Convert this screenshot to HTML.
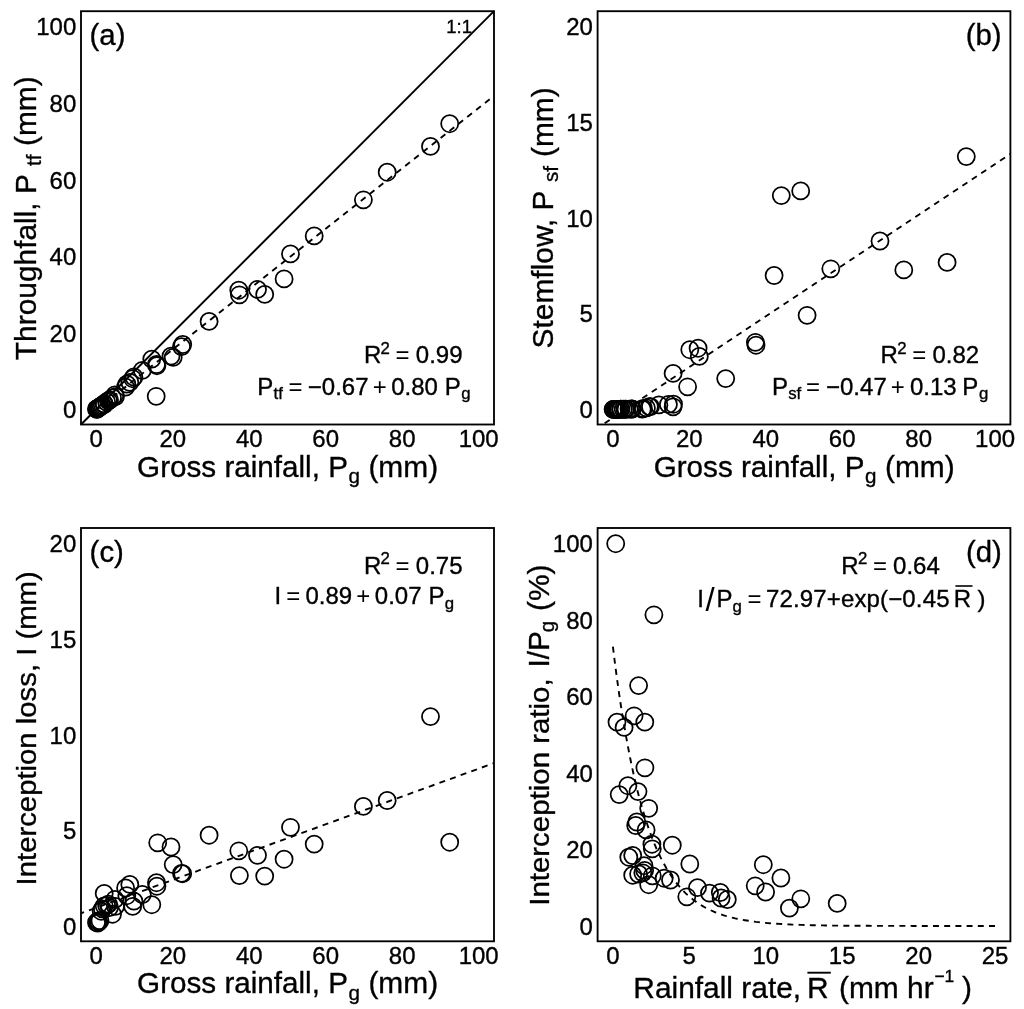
<!DOCTYPE html>
<html lang="en"><head><meta charset="utf-8"><title>Rainfall partitioning</title>
<style>html,body{margin:0;padding:0;background:#fff}svg{display:block}text{font-family:"Liberation Sans", Arial, Helvetica, sans-serif;fill:#000;stroke:#000;stroke-width:0.35px}.sup{font-size:17.5px}.tk{font-size:24px}.ax{font-size:29.9px}.sub{font-size:20.6px}.an{font-size:24px}.ans{font-size:16.8px}.lab{font-size:29.4px}.one{font-size:18.5px}.fr{fill:none;stroke:#000;stroke-width:1.85}.pt{fill:none;stroke:#000;stroke-width:1.75}.ds{fill:none;stroke:#000;stroke-width:1.9;stroke-dasharray:6 5.3}</style></head><body>
<svg width="1024" height="1009" viewBox="0 0 1024 1009">
<rect width="1024" height="1009" fill="#fff"/>
<clipPath id="cpa"><rect x="81.0" y="11.2" width="413.0" height="413.3"/></clipPath>
<clipPath id="cpb"><rect x="597.6" y="11.2" width="412.8" height="413.3"/></clipPath>
<clipPath id="cpc"><rect x="81.0" y="528.0" width="413.0" height="413.3"/></clipPath>
<clipPath id="cpd"><rect x="597.6" y="528.0" width="412.8" height="413.3"/></clipPath>
<text class="tk" transform="translate(96.3 447.4) scale(1 1.03)" text-anchor="middle">0</text>
<text class="tk" transform="translate(172.8 447.4) scale(1 1.03)" text-anchor="middle">20</text>
<text class="tk" transform="translate(249.3 447.4) scale(1 1.03)" text-anchor="middle">40</text>
<text class="tk" transform="translate(325.7 447.4) scale(1 1.03)" text-anchor="middle">60</text>
<text class="tk" transform="translate(402.2 447.4) scale(1 1.03)" text-anchor="middle">80</text>
<text class="tk" transform="translate(478.7 447.4) scale(1 1.03)" text-anchor="middle">100</text>
<text class="tk" transform="translate(76.3 418.1) scale(1 1.03)" text-anchor="end">0</text>
<text class="tk" transform="translate(76.3 341.6) scale(1 1.03)" text-anchor="end">20</text>
<text class="tk" transform="translate(76.3 265.0) scale(1 1.03)" text-anchor="end">40</text>
<text class="tk" transform="translate(76.3 188.5) scale(1 1.03)" text-anchor="end">60</text>
<text class="tk" transform="translate(76.3 111.9) scale(1 1.03)" text-anchor="end">80</text>
<text class="tk" transform="translate(76.3 35.4) scale(1 1.03)" text-anchor="end">100</text>
<line x1="81.0" y1="424.5" x2="494.0" y2="11.2" stroke="#000" stroke-width="1.9"/>
<path class="ds" clip-path="url(#cpa)" d="M489.7 99.2L97.0 409.4"/>
<g class="pt" clip-path="url(#cpa)">
<circle cx="96.5" cy="409.0" r="8.55"/>
<circle cx="96.9" cy="409.4" r="8.55"/>
<circle cx="97.3" cy="408.8" r="8.55"/>
<circle cx="97.7" cy="408.5" r="8.55"/>
<circle cx="98.2" cy="408.2" r="8.55"/>
<circle cx="98.8" cy="407.5" r="8.55"/>
<circle cx="99.4" cy="407.3" r="8.55"/>
<circle cx="100.0" cy="406.8" r="8.55"/>
<circle cx="101.2" cy="406.0" r="8.55"/>
<circle cx="102.4" cy="405.2" r="8.55"/>
<circle cx="104.2" cy="403.7" r="8.55"/>
<circle cx="104.2" cy="404.5" r="8.55"/>
<circle cx="106.6" cy="402.0" r="8.55"/>
<circle cx="108.4" cy="400.8" r="8.55"/>
<circle cx="109.5" cy="400.0" r="8.55"/>
<circle cx="112.5" cy="397.8" r="8.55"/>
<circle cx="114.9" cy="394.8" r="8.55"/>
<circle cx="115.5" cy="396.6" r="8.55"/>
<circle cx="125.6" cy="387.1" r="8.55"/>
<circle cx="126.8" cy="384.1" r="8.55"/>
<circle cx="129.8" cy="382.3" r="8.55"/>
<circle cx="132.7" cy="378.7" r="8.55"/>
<circle cx="133.9" cy="377.0" r="8.55"/>
<circle cx="142.3" cy="370.4" r="8.55"/>
<circle cx="151.8" cy="359.1" r="8.55"/>
<circle cx="156.5" cy="364.5" r="8.55"/>
<circle cx="156.9" cy="365.7" r="8.55"/>
<circle cx="156.2" cy="396.3" r="8.55"/>
<circle cx="171.0" cy="356.1" r="8.55"/>
<circle cx="173.2" cy="357.3" r="8.55"/>
<circle cx="181.5" cy="346.6" r="8.55"/>
<circle cx="182.7" cy="344.5" r="8.55"/>
<circle cx="209.1" cy="321.4" r="8.55"/>
<circle cx="238.8" cy="290.2" r="8.55"/>
<circle cx="239.4" cy="294.8" r="8.55"/>
<circle cx="257.5" cy="289.4" r="8.55"/>
<circle cx="264.7" cy="294.4" r="8.55"/>
<circle cx="284.1" cy="278.9" r="8.55"/>
<circle cx="290.5" cy="253.9" r="8.55"/>
<circle cx="314.2" cy="235.9" r="8.55"/>
<circle cx="363.4" cy="199.8" r="8.55"/>
<circle cx="387.2" cy="172.2" r="8.55"/>
<circle cx="430.5" cy="146.4" r="8.55"/>
<circle cx="449.7" cy="123.7" r="8.55"/>
</g>
<rect class="fr" x="81.0" y="11.2" width="413.0" height="413.3"/>
<text class="tk" transform="translate(612.9 447.4) scale(1 1.03)" text-anchor="middle">0</text>
<text class="tk" transform="translate(689.3 447.4) scale(1 1.03)" text-anchor="middle">20</text>
<text class="tk" transform="translate(765.8 447.4) scale(1 1.03)" text-anchor="middle">40</text>
<text class="tk" transform="translate(842.2 447.4) scale(1 1.03)" text-anchor="middle">60</text>
<text class="tk" transform="translate(918.7 447.4) scale(1 1.03)" text-anchor="middle">80</text>
<text class="tk" transform="translate(995.1 447.4) scale(1 1.03)" text-anchor="middle">100</text>
<text class="tk" transform="translate(592.9 418.1) scale(1 1.03)" text-anchor="end">0</text>
<text class="tk" transform="translate(592.9 322.4) scale(1 1.03)" text-anchor="end">5</text>
<text class="tk" transform="translate(592.9 226.8) scale(1 1.03)" text-anchor="end">10</text>
<text class="tk" transform="translate(592.9 131.1) scale(1 1.03)" text-anchor="end">15</text>
<text class="tk" transform="translate(592.9 35.4) scale(1 1.03)" text-anchor="end">20</text>
<path class="ds" clip-path="url(#cpb)" stroke-dashoffset="2.8" d="M597.6 428.0L1010.4 153.9"/>
<g class="pt" clip-path="url(#cpb)">
<circle cx="613.1" cy="409.3" r="8.55"/>
<circle cx="613.5" cy="409.3" r="8.55"/>
<circle cx="613.9" cy="409.3" r="8.55"/>
<circle cx="614.3" cy="409.3" r="8.55"/>
<circle cx="614.8" cy="409.3" r="8.55"/>
<circle cx="615.4" cy="409.3" r="8.55"/>
<circle cx="616.0" cy="409.3" r="8.55"/>
<circle cx="616.6" cy="409.3" r="8.55"/>
<circle cx="617.8" cy="409.3" r="8.55"/>
<circle cx="619.0" cy="409.3" r="8.55"/>
<circle cx="620.8" cy="409.2" r="8.55"/>
<circle cx="620.8" cy="409.2" r="8.55"/>
<circle cx="623.2" cy="409.2" r="8.55"/>
<circle cx="625.0" cy="409.2" r="8.55"/>
<circle cx="626.1" cy="409.2" r="8.55"/>
<circle cx="629.1" cy="409.1" r="8.55"/>
<circle cx="631.5" cy="409.0" r="8.55"/>
<circle cx="632.1" cy="409.0" r="8.55"/>
<circle cx="642.2" cy="409.1" r="8.55"/>
<circle cx="643.4" cy="408.5" r="8.55"/>
<circle cx="646.4" cy="407.9" r="8.55"/>
<circle cx="649.3" cy="406.7" r="8.55"/>
<circle cx="650.5" cy="406.7" r="8.55"/>
<circle cx="658.9" cy="404.9" r="8.55"/>
<circle cx="668.4" cy="404.4" r="8.55"/>
<circle cx="673.1" cy="406.8" r="8.55"/>
<circle cx="673.5" cy="404.2" r="8.55"/>
<circle cx="673.1" cy="373.4" r="8.55"/>
<circle cx="687.6" cy="386.8" r="8.55"/>
<circle cx="689.8" cy="349.7" r="8.55"/>
<circle cx="698.1" cy="348.2" r="8.55"/>
<circle cx="699.3" cy="356.4" r="8.55"/>
<circle cx="725.7" cy="378.6" r="8.55"/>
<circle cx="755.4" cy="342.3" r="8.55"/>
<circle cx="756.0" cy="345.2" r="8.55"/>
<circle cx="774.1" cy="275.5" r="8.55"/>
<circle cx="781.3" cy="195.6" r="8.55"/>
<circle cx="800.7" cy="190.9" r="8.55"/>
<circle cx="807.1" cy="315.3" r="8.55"/>
<circle cx="830.8" cy="268.8" r="8.55"/>
<circle cx="880.0" cy="241.0" r="8.55"/>
<circle cx="903.8" cy="269.9" r="8.55"/>
<circle cx="947.1" cy="262.4" r="8.55"/>
<circle cx="966.3" cy="156.6" r="8.55"/>
</g>
<rect class="fr" x="597.6" y="11.2" width="412.8" height="413.3"/>
<text class="tk" transform="translate(96.3 964.2) scale(1 1.03)" text-anchor="middle">0</text>
<text class="tk" transform="translate(172.8 964.2) scale(1 1.03)" text-anchor="middle">20</text>
<text class="tk" transform="translate(249.3 964.2) scale(1 1.03)" text-anchor="middle">40</text>
<text class="tk" transform="translate(325.7 964.2) scale(1 1.03)" text-anchor="middle">60</text>
<text class="tk" transform="translate(402.2 964.2) scale(1 1.03)" text-anchor="middle">80</text>
<text class="tk" transform="translate(478.7 964.2) scale(1 1.03)" text-anchor="middle">100</text>
<text class="tk" transform="translate(76.3 934.9) scale(1 1.03)" text-anchor="end">0</text>
<text class="tk" transform="translate(76.3 839.2) scale(1 1.03)" text-anchor="end">5</text>
<text class="tk" transform="translate(76.3 743.5) scale(1 1.03)" text-anchor="end">10</text>
<text class="tk" transform="translate(76.3 647.9) scale(1 1.03)" text-anchor="end">15</text>
<text class="tk" transform="translate(76.3 552.2) scale(1 1.03)" text-anchor="end">20</text>
<path class="ds" clip-path="url(#cpc)" stroke-dashoffset="2.8" d="M81.0 913.3L494.0 763.1"/>
<g class="pt" clip-path="url(#cpc)">
<circle cx="96.5" cy="922.5" r="8.55"/>
<circle cx="97.7" cy="923.1" r="8.55"/>
<circle cx="98.2" cy="921.0" r="8.55"/>
<circle cx="98.8" cy="921.9" r="8.55"/>
<circle cx="100.0" cy="920.7" r="8.55"/>
<circle cx="101.2" cy="911.2" r="8.55"/>
<circle cx="102.4" cy="908.8" r="8.55"/>
<circle cx="104.2" cy="893.4" r="8.55"/>
<circle cx="104.2" cy="905.8" r="8.55"/>
<circle cx="106.6" cy="905.3" r="8.55"/>
<circle cx="108.4" cy="904.1" r="8.55"/>
<circle cx="109.5" cy="907.6" r="8.55"/>
<circle cx="112.5" cy="914.2" r="8.55"/>
<circle cx="114.9" cy="899.3" r="8.55"/>
<circle cx="115.5" cy="906.4" r="8.55"/>
<circle cx="125.6" cy="888.0" r="8.55"/>
<circle cx="126.8" cy="895.7" r="8.55"/>
<circle cx="129.8" cy="884.4" r="8.55"/>
<circle cx="132.7" cy="906.4" r="8.55"/>
<circle cx="133.9" cy="901.1" r="8.55"/>
<circle cx="142.3" cy="894.5" r="8.55"/>
<circle cx="151.8" cy="904.7" r="8.55"/>
<circle cx="156.5" cy="882.7" r="8.55"/>
<circle cx="156.9" cy="886.2" r="8.55"/>
<circle cx="157.7" cy="842.8" r="8.55"/>
<circle cx="171.0" cy="847.0" r="8.55"/>
<circle cx="173.2" cy="864.6" r="8.55"/>
<circle cx="181.5" cy="873.4" r="8.55"/>
<circle cx="182.7" cy="873.7" r="8.55"/>
<circle cx="209.1" cy="835.2" r="8.55"/>
<circle cx="238.8" cy="850.8" r="8.55"/>
<circle cx="239.4" cy="875.6" r="8.55"/>
<circle cx="257.5" cy="855.3" r="8.55"/>
<circle cx="264.7" cy="876.1" r="8.55"/>
<circle cx="284.1" cy="859.2" r="8.55"/>
<circle cx="290.5" cy="827.3" r="8.55"/>
<circle cx="314.2" cy="844.1" r="8.55"/>
<circle cx="363.4" cy="806.4" r="8.55"/>
<circle cx="387.2" cy="800.5" r="8.55"/>
<circle cx="430.5" cy="716.6" r="8.55"/>
<circle cx="449.7" cy="842.2" r="8.55"/>
</g>
<rect class="fr" x="81.0" y="528.0" width="413.0" height="413.3"/>
<text class="tk" transform="translate(612.9 964.2) scale(1 1.03)" text-anchor="middle">0</text>
<text class="tk" transform="translate(689.3 964.2) scale(1 1.03)" text-anchor="middle">5</text>
<text class="tk" transform="translate(765.8 964.2) scale(1 1.03)" text-anchor="middle">10</text>
<text class="tk" transform="translate(842.2 964.2) scale(1 1.03)" text-anchor="middle">15</text>
<text class="tk" transform="translate(918.7 964.2) scale(1 1.03)" text-anchor="middle">20</text>
<text class="tk" transform="translate(995.1 964.2) scale(1 1.03)" text-anchor="middle">25</text>
<text class="tk" transform="translate(592.9 934.9) scale(1 1.03)" text-anchor="end">0</text>
<text class="tk" transform="translate(592.9 858.4) scale(1 1.03)" text-anchor="end">20</text>
<text class="tk" transform="translate(592.9 781.8) scale(1 1.03)" text-anchor="end">40</text>
<text class="tk" transform="translate(592.9 705.3) scale(1 1.03)" text-anchor="end">60</text>
<text class="tk" transform="translate(592.9 628.7) scale(1 1.03)" text-anchor="end">80</text>
<text class="tk" transform="translate(592.9 552.2) scale(1 1.03)" text-anchor="end">100</text>
<path class="ds" clip-path="url(#cpd)" style="stroke-dasharray:5.95 5.254" d="M612.9 646.7L614.8 662.0L616.7 676.5L618.6 690.1L620.5 703.0L622.4 715.2L624.4 726.7L626.3 737.6L628.2 747.9L630.1 757.7L632.0 766.9L633.9 775.6L635.8 783.8L637.7 791.6L639.6 798.9L641.6 805.9L643.5 812.5L645.4 818.7L647.3 824.5L649.2 830.1L651.1 835.3L653.0 840.3L654.9 845.0L656.8 849.4L658.8 853.6L660.7 857.6L662.6 861.3L664.5 864.8L666.4 868.2L668.3 871.3L670.2 874.3L672.1 877.2L674.0 879.8L676.0 882.4L677.9 884.7L679.8 887.0L681.7 889.1L683.6 891.1L685.5 893.1L687.4 894.9L689.3 896.6L691.2 898.2L693.2 899.7L695.1 901.1L697.0 902.5L698.9 903.8L700.8 905.0L702.7 906.1L704.6 907.2L706.5 908.3L708.4 909.2L710.4 910.1L712.3 911.0L714.2 911.8L716.1 912.6L718.0 913.3L719.9 914.0L721.8 914.7L723.7 915.3L725.6 915.9L727.6 916.4L729.5 917.0L731.4 917.5L733.3 917.9L735.2 918.4L737.1 918.8L739.0 919.2L740.9 919.5L742.8 919.9L744.8 920.2L746.7 920.5L748.6 920.8L750.5 921.1L752.4 921.4L754.3 921.6L756.2 921.9L758.1 922.1L760.0 922.3L762.0 922.5L763.9 922.7L765.8 922.9L767.7 923.1L769.6 923.2L771.5 923.4L773.4 923.5L775.3 923.7L777.2 923.8L779.2 923.9L781.1 924.0L783.0 924.1L784.9 924.2L786.8 924.3L788.7 924.4L790.6 924.5L792.5 924.6L794.4 924.7L796.4 924.7L798.3 924.8L800.2 924.9L802.1 924.9L804.0 925.0L805.9 925.0L807.8 925.1L809.7 925.1L811.6 925.2L813.6 925.2L815.5 925.3L817.4 925.3L819.3 925.4L821.2 925.4L823.1 925.4L825.0 925.5L826.9 925.5L828.8 925.5L830.8 925.5L832.7 925.6L834.6 925.6L836.5 925.6L838.4 925.6L840.3 925.6L842.2 925.7L844.1 925.7L846.0 925.7L848.0 925.7L849.9 925.7L851.8 925.7L853.7 925.8L855.6 925.8L857.5 925.8L859.4 925.8L861.3 925.8L863.2 925.8L865.2 925.8L867.1 925.8L869.0 925.8L870.9 925.9L872.8 925.9L874.7 925.9L876.6 925.9L878.5 925.9L880.4 925.9L882.4 925.9L884.3 925.9L886.2 925.9L888.1 925.9L890.0 925.9L891.9 925.9L893.8 925.9L895.7 925.9L897.6 925.9L899.6 925.9L901.5 925.9L903.4 925.9L905.3 925.9L907.2 925.9L909.1 925.9L911.0 925.9L912.9 926.0L914.8 926.0L916.8 926.0L918.7 926.0L920.6 926.0L922.5 926.0L924.4 926.0L926.3 926.0L928.2 926.0L930.1 926.0L932.0 926.0L934.0 926.0L935.9 926.0L937.8 926.0L939.7 926.0L941.6 926.0L943.5 926.0L945.4 926.0L947.3 926.0L949.2 926.0L951.2 926.0L953.1 926.0L955.0 926.0L956.9 926.0L958.8 926.0L960.7 926.0L962.6 926.0L964.5 926.0L966.4 926.0L968.4 926.0L970.3 926.0L972.2 926.0L974.1 926.0L976.0 926.0L977.9 926.0L979.8 926.0L981.7 926.0L983.6 926.0L985.6 926.0L987.5 926.0L989.4 926.0L991.3 926.0L993.2 926.0L995.1 926.0"/>
<g class="pt" clip-path="url(#cpd)">
<circle cx="615.7" cy="543.7" r="8.55"/>
<circle cx="653.9" cy="614.8" r="8.55"/>
<circle cx="638.6" cy="685.6" r="8.55"/>
<circle cx="634.1" cy="715.8" r="8.55"/>
<circle cx="644.8" cy="722.1" r="8.55"/>
<circle cx="617.0" cy="722.1" r="8.55"/>
<circle cx="624.1" cy="727.4" r="8.55"/>
<circle cx="644.9" cy="767.8" r="8.55"/>
<circle cx="627.9" cy="785.7" r="8.55"/>
<circle cx="619.2" cy="794.6" r="8.55"/>
<circle cx="638.0" cy="791.6" r="8.55"/>
<circle cx="648.7" cy="808.3" r="8.55"/>
<circle cx="636.8" cy="822.0" r="8.55"/>
<circle cx="635.7" cy="825.5" r="8.55"/>
<circle cx="646.1" cy="829.9" r="8.55"/>
<circle cx="651.9" cy="844.2" r="8.55"/>
<circle cx="652.3" cy="848.8" r="8.55"/>
<circle cx="672.3" cy="845.2" r="8.55"/>
<circle cx="689.8" cy="864.0" r="8.55"/>
<circle cx="628.8" cy="857.2" r="8.55"/>
<circle cx="632.7" cy="855.5" r="8.55"/>
<circle cx="644.0" cy="865.7" r="8.55"/>
<circle cx="632.7" cy="875.2" r="8.55"/>
<circle cx="638.6" cy="874.0" r="8.55"/>
<circle cx="642.8" cy="872.8" r="8.55"/>
<circle cx="644.6" cy="870.4" r="8.55"/>
<circle cx="652.3" cy="875.8" r="8.55"/>
<circle cx="648.7" cy="884.7" r="8.55"/>
<circle cx="664.2" cy="878.2" r="8.55"/>
<circle cx="670.5" cy="880.0" r="8.55"/>
<circle cx="686.8" cy="896.8" r="8.55"/>
<circle cx="697.5" cy="887.6" r="8.55"/>
<circle cx="709.5" cy="893.1" r="8.55"/>
<circle cx="720.3" cy="892.5" r="8.55"/>
<circle cx="721.1" cy="898.0" r="8.55"/>
<circle cx="727.3" cy="899.5" r="8.55"/>
<circle cx="763.3" cy="864.7" r="8.55"/>
<circle cx="780.9" cy="878.0" r="8.55"/>
<circle cx="755.2" cy="885.8" r="8.55"/>
<circle cx="765.6" cy="892.0" r="8.55"/>
<circle cx="800.8" cy="898.8" r="8.55"/>
<circle cx="789.4" cy="908.1" r="8.55"/>
<circle cx="837.2" cy="903.4" r="8.55"/>
</g>
<rect class="fr" x="597.6" y="528.0" width="412.8" height="413.3"/>
<text class="ax" transform="translate(137.1 476.6) scale(1 0.965)" style="font-size:29.65px">Gross rainfall, P</text>
<text class="sub" transform="translate(348.4 482.8) scale(1 0.965)">g</text>
<text class="ax" transform="translate(368.4 476.6) scale(1 0.965)">(mm)</text>
<text class="ax" transform="translate(653.7 476.6) scale(1 0.965)" style="font-size:29.65px">Gross rainfall, P</text>
<text class="sub" transform="translate(865.0 482.8) scale(1 0.965)">g</text>
<text class="ax" transform="translate(885.0 476.6) scale(1 0.965)">(mm)</text>
<text class="ax" transform="translate(137.1 993.4) scale(1 0.965)" style="font-size:29.65px">Gross rainfall, P</text>
<text class="sub" transform="translate(348.4 999.6) scale(1 0.965)">g</text>
<text class="ax" transform="translate(368.4 993.4) scale(1 0.965)">(mm)</text>
<text class="ax" transform="translate(36.0 360.2) rotate(-90) scale(1 0.965)">Throughfall, P</text>
<text class="sub" transform="translate(41.0 166.0) rotate(-90) scale(1 0.965)">tf</text>
<text class="ax" transform="translate(36.0 146.0) rotate(-90) scale(1 0.965)">(mm)</text>
<text class="ax" transform="translate(552.6 348.4) rotate(-90) scale(1 0.965)">Stemflow, P</text>
<text class="sub" transform="translate(557.6 182.0) rotate(-90) scale(1 0.965)">sf</text>
<text class="ax" transform="translate(552.6 157.0) rotate(-90) scale(1 0.965)">(mm)</text>
<text class="ax" transform="translate(35.7 885.4) rotate(-90) scale(1 0.965)" style="font-size:29.3px">Interception loss, I (mm)</text>
<text class="ax" transform="translate(549.1 905.8) rotate(-90) scale(1 0.965)" style="font-size:29.45px">Interception ratio,</text>
<text class="ax" transform="translate(549.1 667.5) rotate(-90) scale(1 0.965)">I/P</text>
<text class="sub" transform="translate(554.1 632.3) rotate(-90) scale(1 0.965)">g</text>
<text class="ax" transform="translate(549.1 611.0) rotate(-90) scale(1 0.965)">(%)</text>
<text class="lab" transform="translate(89.5 44.9) scale(1 1.0)">(a)</text>
<text class="lab" transform="translate(965.7 44.9) scale(1 1.0)">(b)</text>
<text class="lab" transform="translate(89.6 561.6) scale(1 1.0)">(c)</text>
<text class="lab" transform="translate(965.9 561.5) scale(1 1.0)">(d)</text>
<text class="one" transform="translate(446.2 33.0) scale(1 1.0)">1:1</text>
<text class="an" transform="translate(364.0 363.4) scale(1 1.0)">R</text>
<text class="ans" transform="translate(380.6 353.9) scale(1 1.0)">2</text>
<text class="an" transform="translate(395.6 363.4) scale(1 1.0)" style="stroke-width:0">=</text>
<text class="an" transform="translate(415.8 363.4) scale(1 1.0)">0.99</text>
<text class="an" transform="translate(880.6 363.4) scale(1 1.0)">R</text>
<text class="ans" transform="translate(897.2 353.9) scale(1 1.0)">2</text>
<text class="an" transform="translate(912.2 363.4) scale(1 1.0)" style="stroke-width:0">=</text>
<text class="an" transform="translate(932.4 363.4) scale(1 1.0)">0.82</text>
<text class="an" transform="translate(364.0 573.6) scale(1 1.0)">R</text>
<text class="ans" transform="translate(380.6 564.1) scale(1 1.0)">2</text>
<text class="an" transform="translate(395.6 573.6) scale(1 1.0)" style="stroke-width:0">=</text>
<text class="an" transform="translate(415.8 573.6) scale(1 1.0)">0.75</text>
<text class="an" transform="translate(841.3 573.8) scale(1 1.0)">R</text>
<text class="ans" transform="translate(857.9 564.3) scale(1 1.0)">2</text>
<text class="an" transform="translate(872.9 573.8) scale(1 1.0)" style="stroke-width:0">=</text>
<text class="an" transform="translate(893.1 573.8) scale(1 1.0)">0.64</text>
<text class="an" transform="translate(257.3 394.8) scale(1 1.0)">P</text>
<text class="ans" transform="translate(273.5 399.3) scale(1 1.0)">tf</text>
<text class="an" transform="translate(288.5 394.8) scale(1 1.0)" style="stroke-width:0">=</text>
<text class="an" transform="translate(307.8 394.8) scale(1 1.0)">−0.67</text>
<text class="an" transform="translate(372.8 394.8) scale(1 1.0)" style="stroke-width:0">+</text>
<text class="an" transform="translate(391.2 394.8) scale(1 1.0)">0.80</text>
<text class="an" transform="translate(444.8 394.8) scale(1 1.0)">P</text>
<text class="ans" transform="translate(461.3 399.3) scale(1 1.0)">g</text>
<text class="an" transform="translate(772.0 394.8) scale(1 1.0)">P</text>
<text class="ans" transform="translate(788.2 399.3) scale(1 1.0)">sf</text>
<text class="an" transform="translate(806.0 394.8) scale(1 1.0)" style="stroke-width:0">=</text>
<text class="an" transform="translate(826.0 394.8) scale(1 1.0)">−0.47</text>
<text class="an" transform="translate(890.8 394.8) scale(1 1.0)" style="stroke-width:0">+</text>
<text class="an" transform="translate(909.9 394.8) scale(1 1.0)">0.13</text>
<text class="an" transform="translate(962.3 394.8) scale(1 1.0)">P</text>
<text class="ans" transform="translate(979.0 399.3) scale(1 1.0)">g</text>
<text class="an" transform="translate(274.6 604.4) scale(1 1.0)">I</text>
<text class="an" transform="translate(286.2 604.4) scale(1 1.0)" style="stroke-width:0">=</text>
<text class="an" transform="translate(305.5 604.4) scale(1 1.0)">0.89</text>
<text class="an" transform="translate(356.2 604.4) scale(1 1.0)" style="stroke-width:0">+</text>
<text class="an" transform="translate(374.8 604.4) scale(1 1.0)">0.07</text>
<text class="an" transform="translate(428.6 604.4) scale(1 1.0)">P</text>
<text class="ans" transform="translate(444.8 608.9) scale(1 1.0)">g</text>
<text class="an" transform="translate(697.2 607.3) scale(1 1.0)">I</text>
<text class="an" transform="translate(705.6 610.7) scale(1 1.0)" style="font-size:33px;stroke-width:0">/</text>
<text class="an" transform="translate(716.4 607.3) scale(1 1.0)">P</text>
<text class="ans" transform="translate(732.5 611.8) scale(1 1.0)">g</text>
<text class="an" transform="translate(747.4 607.3) scale(1 1.0)" style="stroke-width:0">=</text>
<text class="an" transform="translate(766.0 607.3) scale(1 1.0)" textLength="183.5" lengthAdjust="spacing">72.97+exp(−0.45</text>
<text class="an" transform="translate(953.8 607.3) scale(1 1.0)">R</text>
<text class="an" transform="translate(977.5 607.3) scale(1 1.0)">)</text>
<line x1="955.4" y1="586.0" x2="972.5" y2="586.0" stroke="#000" stroke-width="1.6"/>
<text class="ax" transform="translate(633.3 997.6) scale(1 0.965)">Rainfall rate,</text>
<text class="ax" transform="translate(806.9 997.6) scale(1 0.965)">R</text>
<text class="ax" transform="translate(839.0 997.6) scale(1 0.965)">(mm hr</text>
<text class="sup" transform="translate(934.4 982.1) scale(1 0.965)">−1</text>
<text class="ax" transform="translate(962.0 997.6) scale(1 0.965)">)</text>
<line x1="807.4" y1="972.7" x2="830.8" y2="972.7" stroke="#000" stroke-width="1.9"/>
</svg></body></html>
